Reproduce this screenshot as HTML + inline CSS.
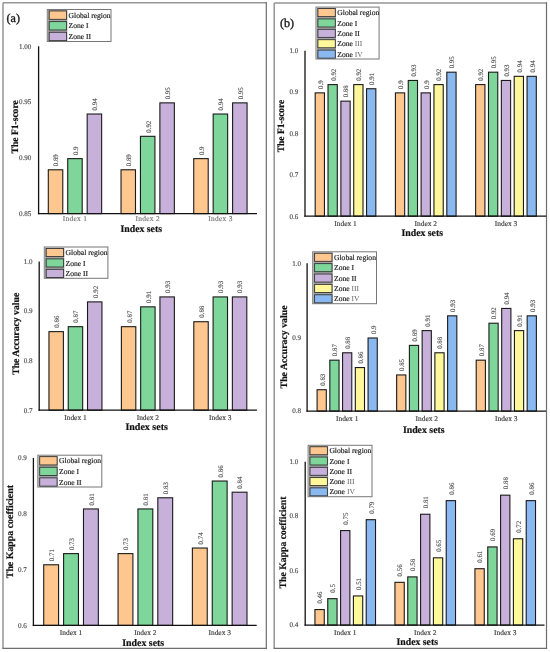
<!DOCTYPE html>
<html><head><meta charset="utf-8"><style>
html,body{margin:0;padding:0;background:#fff;}
body{width:550px;height:652px;overflow:hidden;}
svg{display:block;will-change:transform;}
text{font-family:"Liberation Serif",serif;text-rendering:geometricPrecision;}
.t{font-size:7.1px;fill:#4a4a4a;stroke:#555;stroke-width:0.15px;}
.v{font-size:6.9px;fill:#4a4a4a;stroke:#555;stroke-width:0.12px;}
.c{font-size:7.4px;fill:#3a3a3a;stroke:#444;stroke-width:0.16px;}
.l{font-size:7.6px;fill:#222;stroke:#222;stroke-width:0.18px;}
.rn{fill:#666;stroke:none;}
.c2{fill:#666;stroke:#777;stroke-width:0.1px;}
.xt{font-size:10px;font-weight:bold;fill:#111;stroke:#111;stroke-width:0.2px;}
.yt{font-size:9.8px;font-weight:bold;fill:#111;stroke:#111;stroke-width:0.2px;}
.pl{font-size:12.1px;fill:#1a1a1a;stroke:#1a1a1a;stroke-width:0.35px;}
</style></head><body>
<svg width="550" height="652" viewBox="0 0 550 652">
<rect width="550" height="652" fill="#fff"/>
<line x1="3" y1="2.8" x2="266.3" y2="2.8" stroke="#959595" stroke-width="1.5"/>
<line x1="3" y1="2.8" x2="3" y2="648.3" stroke="#959595" stroke-width="1.5"/>
<line x1="266.3" y1="2.1" x2="266.3" y2="648.9" stroke="#6e6e6e" stroke-width="1.2"/>
<line x1="2.3" y1="648.3" x2="266.9" y2="648.3" stroke="#6e6e6e" stroke-width="1.2"/>
<line x1="274.2" y1="2.9" x2="546.5" y2="2.9" stroke="#959595" stroke-width="1.5"/>
<line x1="274.2" y1="2.9" x2="274.2" y2="648.3" stroke="#959595" stroke-width="1.5"/>
<line x1="546.5" y1="2.2" x2="546.5" y2="648.9" stroke="#6e6e6e" stroke-width="1.2"/>
<line x1="273.5" y1="648.3" x2="547.1" y2="648.3" stroke="#6e6e6e" stroke-width="1.2"/>
<text class="pl" x="6.6" y="22.4">(a)</text>
<text class="pl" x="279.9" y="26.7">(b)</text>
<rect x="48.3" y="169.79" width="14.47" height="43.81" fill="#FFC790" stroke="#1a1a1a" stroke-width="1.1"/>
<text class="v" transform="translate(58.44 166.24) rotate(-90)" x="0" y="0">0.89</text>
<rect x="67.73" y="158.63" width="14.47" height="54.97" fill="#7ED69A" stroke="#1a1a1a" stroke-width="1.1"/>
<text class="v" transform="translate(77.87 155.08) rotate(-90)" x="0" y="0">0.9</text>
<rect x="87.17" y="114.02" width="14.47" height="99.58" fill="#C7B1DB" stroke="#1a1a1a" stroke-width="1.1"/>
<text class="v" transform="translate(97.3 110.47) rotate(-90)" x="0" y="0">0.94</text>
<text class="c c2" x="74.97" y="221.4" text-anchor="middle" style="letter-spacing:0.3px">Index 1</text>
<rect x="121.02" y="169.79" width="14.47" height="43.81" fill="#FFC790" stroke="#1a1a1a" stroke-width="1.1"/>
<text class="v" transform="translate(131.16 166.24) rotate(-90)" x="0" y="0">0.89</text>
<rect x="140.45" y="136.33" width="14.47" height="77.27" fill="#7ED69A" stroke="#1a1a1a" stroke-width="1.1"/>
<text class="v" transform="translate(150.59 132.78) rotate(-90)" x="0" y="0">0.92</text>
<rect x="159.88" y="102.87" width="14.47" height="110.73" fill="#C7B1DB" stroke="#1a1a1a" stroke-width="1.1"/>
<text class="v" transform="translate(170.02 99.32) rotate(-90)" x="0" y="0">0.95</text>
<text class="c c2" x="147.69" y="221.4" text-anchor="middle" style="letter-spacing:0.3px">Index 2</text>
<rect x="193.74" y="158.63" width="14.47" height="54.97" fill="#FFC790" stroke="#1a1a1a" stroke-width="1.1"/>
<text class="v" transform="translate(203.88 155.08) rotate(-90)" x="0" y="0">0.9</text>
<rect x="213.17" y="114.02" width="14.47" height="99.58" fill="#7ED69A" stroke="#1a1a1a" stroke-width="1.1"/>
<text class="v" transform="translate(223.31 110.47) rotate(-90)" x="0" y="0">0.94</text>
<rect x="232.6" y="102.87" width="14.47" height="110.73" fill="#C7B1DB" stroke="#1a1a1a" stroke-width="1.1"/>
<text class="v" transform="translate(242.74 99.32) rotate(-90)" x="0" y="0">0.95</text>
<text class="c c2" x="220.41" y="221.4" text-anchor="middle" style="letter-spacing:0.3px">Index 3</text>
<line x1="38.6" y1="46.3" x2="38.6" y2="214.25" stroke="#111" stroke-width="1.3"/>
<line x1="37.95" y1="213.6" x2="257" y2="213.6" stroke="#111" stroke-width="1.3"/>
<text class="t" x="31.3" y="215.9" text-anchor="end">0.85</text>
<text class="t" x="31.3" y="160.13" text-anchor="end">0.90</text>
<text class="t" x="31.3" y="104.37" text-anchor="end">0.95</text>
<text class="t" x="31.3" y="48.6" text-anchor="end">1.00</text>
<text class="xt" x="120.5" y="232" textLength="41.5" lengthAdjust="spacingAndGlyphs">Index sets</text>
<text class="yt" transform="translate(17.5 153.4) rotate(-90)" x="0" y="0" textLength="53.1" lengthAdjust="spacingAndGlyphs">The F1-score</text>
<rect x="47.3" y="9.5" width="63.7" height="32" fill="#fff" stroke="#777" stroke-width="1"/>
<rect x="47.8" y="10" width="19.5" height="31" fill="#a4a4a4"/>
<rect x="49.2" y="10.95" width="17.4" height="8.37" fill="#FFC790" stroke="#333" stroke-width="0.9"/>
<text class="l" x="68.6" y="17.73">Global region</text>
<rect x="49.2" y="21.62" width="17.4" height="8.37" fill="#7ED69A" stroke="#333" stroke-width="0.9"/>
<text class="l" x="68.6" y="28.4">Zone I</text>
<rect x="49.2" y="32.28" width="17.4" height="8.37" fill="#C7B1DB" stroke="#333" stroke-width="0.9"/>
<text class="l" x="68.6" y="39.07">Zone II</text>
<rect x="48.96" y="331.64" width="14.43" height="78.56" fill="#FFC790" stroke="#1a1a1a" stroke-width="1.1"/>
<text class="v" transform="translate(59.08 327.69) rotate(-90)" x="0" y="0">0.86</text>
<rect x="68.24" y="326.68" width="14.43" height="83.52" fill="#7ED69A" stroke="#1a1a1a" stroke-width="1.1"/>
<text class="v" transform="translate(78.36 322.73) rotate(-90)" x="0" y="0">0.87</text>
<rect x="87.52" y="301.88" width="14.43" height="108.32" fill="#C7B1DB" stroke="#1a1a1a" stroke-width="1.1"/>
<text class="v" transform="translate(97.64 297.93) rotate(-90)" x="0" y="0">0.92</text>
<text class="c" x="75.46" y="419.6" text-anchor="middle" style="letter-spacing:0px">Index 1</text>
<rect x="121.38" y="326.68" width="14.43" height="83.52" fill="#FFC790" stroke="#1a1a1a" stroke-width="1.1"/>
<text class="v" transform="translate(131.5 322.73) rotate(-90)" x="0" y="0">0.87</text>
<rect x="140.66" y="306.84" width="14.43" height="103.36" fill="#7ED69A" stroke="#1a1a1a" stroke-width="1.1"/>
<text class="v" transform="translate(150.78 302.89) rotate(-90)" x="0" y="0">0.91</text>
<rect x="159.94" y="296.92" width="14.43" height="113.28" fill="#C7B1DB" stroke="#1a1a1a" stroke-width="1.1"/>
<text class="v" transform="translate(170.06 292.97) rotate(-90)" x="0" y="0">0.93</text>
<text class="c" x="147.88" y="419.6" text-anchor="middle" style="letter-spacing:0px">Index 2</text>
<rect x="193.81" y="321.72" width="14.43" height="88.48" fill="#FFC790" stroke="#1a1a1a" stroke-width="1.1"/>
<text class="v" transform="translate(203.92 317.77) rotate(-90)" x="0" y="0">0.88</text>
<rect x="213.09" y="296.92" width="14.43" height="113.28" fill="#7ED69A" stroke="#1a1a1a" stroke-width="1.1"/>
<text class="v" transform="translate(223.2 292.97) rotate(-90)" x="0" y="0">0.93</text>
<rect x="232.37" y="296.92" width="14.43" height="113.28" fill="#C7B1DB" stroke="#1a1a1a" stroke-width="1.1"/>
<text class="v" transform="translate(242.48 292.97) rotate(-90)" x="0" y="0">0.93</text>
<text class="c" x="220.3" y="419.6" text-anchor="middle" style="letter-spacing:0px">Index 3</text>
<line x1="39.2" y1="261.4" x2="39.2" y2="410.85" stroke="#111" stroke-width="1.3"/>
<line x1="38.55" y1="410.2" x2="256.9" y2="410.2" stroke="#111" stroke-width="1.3"/>
<text class="t" x="32.5" y="412.5" text-anchor="end">0.7</text>
<text class="t" x="32.5" y="362.9" text-anchor="end">0.8</text>
<text class="t" x="32.5" y="313.3" text-anchor="end">0.9</text>
<text class="t" x="32.5" y="263.7" text-anchor="end">1.0</text>
<text class="xt" x="125.4" y="430.2" textLength="42.5" lengthAdjust="spacingAndGlyphs">Index sets</text>
<text class="yt" transform="translate(19.2 374.8) rotate(-90)" x="0" y="0" textLength="82" lengthAdjust="spacingAndGlyphs">The Accuracy value</text>
<rect x="44.3" y="247" width="63.6" height="31.3" fill="#fff" stroke="#777" stroke-width="1"/>
<rect x="44.8" y="247.5" width="19.5" height="30.3" fill="#a4a4a4"/>
<rect x="46.2" y="248.45" width="17.4" height="8.13" fill="#FFC790" stroke="#333" stroke-width="0.9"/>
<text class="l" x="65.6" y="255.12">Global region</text>
<rect x="46.2" y="258.88" width="17.4" height="8.13" fill="#7ED69A" stroke="#333" stroke-width="0.9"/>
<text class="l" x="65.6" y="265.55">Zone I</text>
<rect x="46.2" y="269.32" width="17.4" height="8.13" fill="#C7B1DB" stroke="#333" stroke-width="0.9"/>
<text class="l" x="65.6" y="275.98">Zone II</text>
<rect x="43.72" y="564.78" width="14.86" height="60.62" fill="#FFC790" stroke="#1a1a1a" stroke-width="1.1"/>
<text class="v" transform="translate(54.05 561.23) rotate(-90)" x="0" y="0">0.71</text>
<rect x="63.6" y="553.62" width="14.86" height="71.78" fill="#7ED69A" stroke="#1a1a1a" stroke-width="1.1"/>
<text class="v" transform="translate(73.93 550.07) rotate(-90)" x="0" y="0">0.73</text>
<rect x="83.48" y="508.95" width="14.86" height="116.45" fill="#C7B1DB" stroke="#1a1a1a" stroke-width="1.1"/>
<text class="v" transform="translate(93.81 505.4) rotate(-90)" x="0" y="0">0.81</text>
<text class="c" x="71.03" y="634.6" text-anchor="middle" style="letter-spacing:0px">Index 1</text>
<rect x="118.05" y="553.62" width="14.86" height="71.78" fill="#FFC790" stroke="#1a1a1a" stroke-width="1.1"/>
<text class="v" transform="translate(128.38 550.07) rotate(-90)" x="0" y="0">0.73</text>
<rect x="137.93" y="508.95" width="14.86" height="116.45" fill="#7ED69A" stroke="#1a1a1a" stroke-width="1.1"/>
<text class="v" transform="translate(148.26 505.4) rotate(-90)" x="0" y="0">0.81</text>
<rect x="157.81" y="497.78" width="14.86" height="127.62" fill="#C7B1DB" stroke="#1a1a1a" stroke-width="1.1"/>
<text class="v" transform="translate(168.14 494.23) rotate(-90)" x="0" y="0">0.83</text>
<text class="c" x="145.36" y="634.6" text-anchor="middle" style="letter-spacing:0px">Index 2</text>
<rect x="192.38" y="548.03" width="14.86" height="77.37" fill="#FFC790" stroke="#1a1a1a" stroke-width="1.1"/>
<text class="v" transform="translate(202.71 544.48) rotate(-90)" x="0" y="0">0.74</text>
<rect x="212.26" y="481.03" width="14.86" height="144.37" fill="#7ED69A" stroke="#1a1a1a" stroke-width="1.1"/>
<text class="v" transform="translate(222.59 477.48) rotate(-90)" x="0" y="0">0.86</text>
<rect x="232.14" y="492.2" width="14.86" height="133.2" fill="#C7B1DB" stroke="#1a1a1a" stroke-width="1.1"/>
<text class="v" transform="translate(242.47 488.65) rotate(-90)" x="0" y="0">0.84</text>
<text class="c" x="219.69" y="634.6" text-anchor="middle" style="letter-spacing:0px">Index 3</text>
<line x1="33.4" y1="457.9" x2="33.4" y2="626.05" stroke="#111" stroke-width="1.3"/>
<line x1="32.75" y1="625.4" x2="256.7" y2="625.4" stroke="#111" stroke-width="1.3"/>
<text class="t" x="26.8" y="627.7" text-anchor="end">0.6</text>
<text class="t" x="26.8" y="571.87" text-anchor="end">0.7</text>
<text class="t" x="26.8" y="516.03" text-anchor="end">0.8</text>
<text class="t" x="26.8" y="460.2" text-anchor="end">0.9</text>
<text class="xt" x="122.2" y="646.3" textLength="42" lengthAdjust="spacingAndGlyphs">Index sets</text>
<text class="yt" transform="translate(13.3 578.2) rotate(-90)" x="0" y="0" textLength="93.2" lengthAdjust="spacingAndGlyphs">The Kappa coefficient</text>
<rect x="37.8" y="455.2" width="64" height="31.8" fill="#fff" stroke="#777" stroke-width="1"/>
<rect x="38.3" y="455.7" width="19.5" height="30.8" fill="#a4a4a4"/>
<rect x="39.7" y="456.65" width="17.4" height="8.3" fill="#FFC790" stroke="#333" stroke-width="0.9"/>
<text class="l" x="59.1" y="463.4">Global region</text>
<rect x="39.7" y="467.25" width="17.4" height="8.3" fill="#7ED69A" stroke="#333" stroke-width="0.9"/>
<text class="l" x="59.1" y="474">Zone I</text>
<rect x="39.7" y="477.85" width="17.4" height="8.3" fill="#C7B1DB" stroke="#333" stroke-width="0.9"/>
<text class="l" x="59.1" y="484.6">Zone II</text>
<rect x="315.18" y="92.87" width="9.27" height="123.33" fill="#FFC790" stroke="#1a1a1a" stroke-width="1.1"/>
<text class="v" transform="translate(322.71 89.02) rotate(-90)" x="0" y="0">0.9</text>
<rect x="328.02" y="84.6" width="9.27" height="131.6" fill="#7ED69A" stroke="#1a1a1a" stroke-width="1.1"/>
<text class="v" transform="translate(335.56 80.75) rotate(-90)" x="0" y="0">0.92</text>
<rect x="340.88" y="101.15" width="9.27" height="115.05" fill="#C7B1DB" stroke="#1a1a1a" stroke-width="1.1"/>
<text class="v" transform="translate(348.41 97.3) rotate(-90)" x="0" y="0">0.88</text>
<rect x="353.73" y="84.6" width="9.27" height="131.6" fill="#FFF799" stroke="#1a1a1a" stroke-width="1.1"/>
<text class="v" transform="translate(361.26 80.75) rotate(-90)" x="0" y="0">0.92</text>
<rect x="366.57" y="88.74" width="9.27" height="127.46" fill="#8AB9F1" stroke="#1a1a1a" stroke-width="1.1"/>
<text class="v" transform="translate(374.11 84.89) rotate(-90)" x="0" y="0">0.91</text>
<text class="c" x="345.51" y="225.9" text-anchor="middle" style="letter-spacing:0px">Index 1</text>
<rect x="395.41" y="92.87" width="9.27" height="123.33" fill="#FFC790" stroke="#1a1a1a" stroke-width="1.1"/>
<text class="v" transform="translate(402.94 89.02) rotate(-90)" x="0" y="0">0.9</text>
<rect x="408.25" y="80.46" width="9.27" height="135.74" fill="#7ED69A" stroke="#1a1a1a" stroke-width="1.1"/>
<text class="v" transform="translate(415.79 76.61) rotate(-90)" x="0" y="0">0.93</text>
<rect x="421.11" y="92.87" width="9.27" height="123.33" fill="#C7B1DB" stroke="#1a1a1a" stroke-width="1.1"/>
<text class="v" transform="translate(428.64 89.02) rotate(-90)" x="0" y="0">0.9</text>
<rect x="433.96" y="84.6" width="9.27" height="131.6" fill="#FFF799" stroke="#1a1a1a" stroke-width="1.1"/>
<text class="v" transform="translate(441.49 80.75) rotate(-90)" x="0" y="0">0.92</text>
<rect x="446.81" y="72.19" width="9.27" height="144.01" fill="#8AB9F1" stroke="#1a1a1a" stroke-width="1.1"/>
<text class="v" transform="translate(454.34 68.34) rotate(-90)" x="0" y="0">0.95</text>
<text class="c" x="425.74" y="225.9" text-anchor="middle" style="letter-spacing:0px">Index 2</text>
<rect x="475.64" y="84.6" width="9.27" height="131.6" fill="#FFC790" stroke="#1a1a1a" stroke-width="1.1"/>
<text class="v" transform="translate(483.17 80.75) rotate(-90)" x="0" y="0">0.92</text>
<rect x="488.49" y="72.19" width="9.27" height="144.01" fill="#7ED69A" stroke="#1a1a1a" stroke-width="1.1"/>
<text class="v" transform="translate(496.02 68.34) rotate(-90)" x="0" y="0">0.95</text>
<rect x="501.34" y="80.46" width="9.27" height="135.74" fill="#C7B1DB" stroke="#1a1a1a" stroke-width="1.1"/>
<text class="v" transform="translate(508.87 76.61) rotate(-90)" x="0" y="0">0.93</text>
<rect x="514.19" y="76.33" width="9.27" height="139.88" fill="#FFF799" stroke="#1a1a1a" stroke-width="1.1"/>
<text class="v" transform="translate(521.72 72.48) rotate(-90)" x="0" y="0">0.94</text>
<rect x="527.04" y="76.33" width="9.27" height="139.88" fill="#8AB9F1" stroke="#1a1a1a" stroke-width="1.1"/>
<text class="v" transform="translate(534.57 72.48) rotate(-90)" x="0" y="0">0.94</text>
<text class="c" x="505.97" y="225.9" text-anchor="middle" style="letter-spacing:0px">Index 3</text>
<line x1="305" y1="50.7" x2="305" y2="216.85" stroke="#111" stroke-width="1.3"/>
<line x1="304.35" y1="216.2" x2="546.4" y2="216.2" stroke="#111" stroke-width="1.3"/>
<text class="t" x="298.3" y="218.5" text-anchor="end">0.6</text>
<text class="t" x="298.3" y="177.12" text-anchor="end">0.7</text>
<text class="t" x="298.3" y="135.75" text-anchor="end">0.8</text>
<text class="t" x="298.3" y="94.37" text-anchor="end">0.9</text>
<text class="t" x="298.3" y="53" text-anchor="end">1.0</text>
<text class="xt" x="401.5" y="235.5" textLength="41.5" lengthAdjust="spacingAndGlyphs">Index sets</text>
<text class="yt" transform="translate(284.3 152.2) rotate(-90)" x="0" y="0" textLength="52.5" lengthAdjust="spacingAndGlyphs">The F1-score</text>
<rect x="316" y="7.1" width="63.1" height="51.9" fill="#fff" stroke="#777" stroke-width="1"/>
<rect x="316.5" y="7.6" width="19.5" height="50.9" fill="#a4a4a4"/>
<rect x="317.9" y="8.55" width="17.4" height="8.08" fill="#FFC790" stroke="#333" stroke-width="0.9"/>
<text class="l" x="337.3" y="15.19">Global region</text>
<rect x="317.9" y="18.93" width="17.4" height="8.08" fill="#7ED69A" stroke="#333" stroke-width="0.9"/>
<text class="l" x="337.3" y="25.57">Zone I</text>
<rect x="317.9" y="29.31" width="17.4" height="8.08" fill="#C7B1DB" stroke="#333" stroke-width="0.9"/>
<text class="l" x="337.3" y="35.95">Zone II</text>
<rect x="317.9" y="39.69" width="17.4" height="8.08" fill="#FFF799" stroke="#333" stroke-width="0.9"/>
<text class="l" x="337.3" y="46.33">Zone <tspan class="rn">III</tspan></text>
<rect x="317.9" y="50.07" width="17.4" height="8.08" fill="#8AB9F1" stroke="#333" stroke-width="0.9"/>
<text class="l" x="337.3" y="56.71">Zone <tspan class="rn">IV</tspan></text>
<rect x="317.09" y="389.73" width="9.21" height="21.37" fill="#FFC790" stroke="#1a1a1a" stroke-width="1.1"/>
<text class="v" transform="translate(324.6 385.78) rotate(-90)" x="0" y="0">0.83</text>
<rect x="329.83" y="360.17" width="9.21" height="50.93" fill="#7ED69A" stroke="#1a1a1a" stroke-width="1.1"/>
<text class="v" transform="translate(337.34 356.22) rotate(-90)" x="0" y="0">0.87</text>
<rect x="342.57" y="352.78" width="9.21" height="58.32" fill="#C7B1DB" stroke="#1a1a1a" stroke-width="1.1"/>
<text class="v" transform="translate(350.08 348.83) rotate(-90)" x="0" y="0">0.88</text>
<rect x="355.31" y="367.56" width="9.21" height="43.54" fill="#FFF799" stroke="#1a1a1a" stroke-width="1.1"/>
<text class="v" transform="translate(362.82 363.61) rotate(-90)" x="0" y="0">0.86</text>
<rect x="368.06" y="338" width="9.21" height="73.1" fill="#8AB9F1" stroke="#1a1a1a" stroke-width="1.1"/>
<text class="v" transform="translate(375.56 334.05) rotate(-90)" x="0" y="0">0.9</text>
<text class="c" x="347.18" y="420.9" text-anchor="middle" style="letter-spacing:0px">Index 1</text>
<rect x="396.65" y="374.95" width="9.21" height="36.15" fill="#FFC790" stroke="#1a1a1a" stroke-width="1.1"/>
<text class="v" transform="translate(404.16 371) rotate(-90)" x="0" y="0">0.85</text>
<rect x="409.39" y="345.39" width="9.21" height="65.71" fill="#7ED69A" stroke="#1a1a1a" stroke-width="1.1"/>
<text class="v" transform="translate(416.9 341.44) rotate(-90)" x="0" y="0">0.89</text>
<rect x="422.13" y="330.61" width="9.21" height="80.49" fill="#C7B1DB" stroke="#1a1a1a" stroke-width="1.1"/>
<text class="v" transform="translate(429.64 326.66) rotate(-90)" x="0" y="0">0.91</text>
<rect x="434.88" y="352.78" width="9.21" height="58.32" fill="#FFF799" stroke="#1a1a1a" stroke-width="1.1"/>
<text class="v" transform="translate(442.38 348.83) rotate(-90)" x="0" y="0">0.88</text>
<rect x="447.62" y="315.83" width="9.21" height="95.27" fill="#8AB9F1" stroke="#1a1a1a" stroke-width="1.1"/>
<text class="v" transform="translate(455.12 311.88) rotate(-90)" x="0" y="0">0.93</text>
<text class="c" x="426.74" y="420.9" text-anchor="middle" style="letter-spacing:0px">Index 2</text>
<rect x="476.21" y="360.17" width="9.21" height="50.93" fill="#FFC790" stroke="#1a1a1a" stroke-width="1.1"/>
<text class="v" transform="translate(483.72 356.22) rotate(-90)" x="0" y="0">0.87</text>
<rect x="488.95" y="323.22" width="9.21" height="87.88" fill="#7ED69A" stroke="#1a1a1a" stroke-width="1.1"/>
<text class="v" transform="translate(496.46 319.27) rotate(-90)" x="0" y="0">0.92</text>
<rect x="501.69" y="308.44" width="9.21" height="102.66" fill="#C7B1DB" stroke="#1a1a1a" stroke-width="1.1"/>
<text class="v" transform="translate(509.2 304.49) rotate(-90)" x="0" y="0">0.94</text>
<rect x="514.43" y="330.61" width="9.21" height="80.49" fill="#FFF799" stroke="#1a1a1a" stroke-width="1.1"/>
<text class="v" transform="translate(521.94 326.66) rotate(-90)" x="0" y="0">0.91</text>
<rect x="527.17" y="315.83" width="9.21" height="95.27" fill="#8AB9F1" stroke="#1a1a1a" stroke-width="1.1"/>
<text class="v" transform="translate(534.68 311.88) rotate(-90)" x="0" y="0">0.93</text>
<text class="c" x="506.3" y="420.9" text-anchor="middle" style="letter-spacing:0px">Index 3</text>
<line x1="307.1" y1="263.3" x2="307.1" y2="411.75" stroke="#111" stroke-width="1.3"/>
<line x1="306.45" y1="411.1" x2="546" y2="411.1" stroke="#111" stroke-width="1.3"/>
<text class="t" x="301" y="413.4" text-anchor="end">0.8</text>
<text class="t" x="301" y="339.5" text-anchor="end">0.9</text>
<text class="t" x="301" y="265.6" text-anchor="end">1.0</text>
<text class="xt" x="402.9" y="432.9" textLength="41.7" lengthAdjust="spacingAndGlyphs">Index sets</text>
<text class="yt" transform="translate(287.3 388.4) rotate(-90)" x="0" y="0" textLength="83" lengthAdjust="spacingAndGlyphs">The Accuracy value</text>
<rect x="312.7" y="251.8" width="63.8" height="51.9" fill="#fff" stroke="#777" stroke-width="1"/>
<rect x="313.2" y="252.3" width="19.5" height="50.9" fill="#a4a4a4"/>
<rect x="314.6" y="253.25" width="17.4" height="8.08" fill="#FFC790" stroke="#333" stroke-width="0.9"/>
<text class="l" x="334" y="259.89">Global region</text>
<rect x="314.6" y="263.63" width="17.4" height="8.08" fill="#7ED69A" stroke="#333" stroke-width="0.9"/>
<text class="l" x="334" y="270.27">Zone I</text>
<rect x="314.6" y="274.01" width="17.4" height="8.08" fill="#C7B1DB" stroke="#333" stroke-width="0.9"/>
<text class="l" x="334" y="280.65">Zone II</text>
<rect x="314.6" y="284.39" width="17.4" height="8.08" fill="#FFF799" stroke="#333" stroke-width="0.9"/>
<text class="l" x="334" y="291.03">Zone <tspan class="rn">III</tspan></text>
<rect x="314.6" y="294.77" width="17.4" height="8.08" fill="#8AB9F1" stroke="#333" stroke-width="0.9"/>
<text class="l" x="334" y="301.41">Zone <tspan class="rn">IV</tspan></text>
<rect x="314.94" y="609.56" width="9.31" height="15.54" fill="#FFC790" stroke="#1a1a1a" stroke-width="1.1"/>
<text class="v" transform="translate(322.49 603.61) rotate(-90)" x="0" y="0">0.46</text>
<rect x="327.76" y="598.67" width="9.31" height="26.43" fill="#7ED69A" stroke="#1a1a1a" stroke-width="1.1"/>
<text class="v" transform="translate(335.31 592.72) rotate(-90)" x="0" y="0">0.5</text>
<rect x="340.58" y="530.58" width="9.31" height="94.52" fill="#C7B1DB" stroke="#1a1a1a" stroke-width="1.1"/>
<text class="v" transform="translate(348.13 524.63) rotate(-90)" x="0" y="0">0.75</text>
<rect x="353.4" y="595.94" width="9.31" height="29.16" fill="#FFF799" stroke="#1a1a1a" stroke-width="1.1"/>
<text class="v" transform="translate(360.95 589.99) rotate(-90)" x="0" y="0">0.51</text>
<rect x="366.22" y="519.69" width="9.31" height="105.41" fill="#8AB9F1" stroke="#1a1a1a" stroke-width="1.1"/>
<text class="v" transform="translate(373.77 513.74) rotate(-90)" x="0" y="0">0.79</text>
<text class="c" x="345.23" y="634.6" text-anchor="middle" style="letter-spacing:0px">Index 1</text>
<rect x="394.94" y="582.33" width="9.31" height="42.77" fill="#FFC790" stroke="#1a1a1a" stroke-width="1.1"/>
<text class="v" transform="translate(402.49 576.38) rotate(-90)" x="0" y="0">0.56</text>
<rect x="407.76" y="576.88" width="9.31" height="48.22" fill="#7ED69A" stroke="#1a1a1a" stroke-width="1.1"/>
<text class="v" transform="translate(415.31 570.93) rotate(-90)" x="0" y="0">0.58</text>
<rect x="420.58" y="514.24" width="9.31" height="110.86" fill="#C7B1DB" stroke="#1a1a1a" stroke-width="1.1"/>
<text class="v" transform="translate(428.13 508.29) rotate(-90)" x="0" y="0">0.81</text>
<rect x="433.4" y="557.82" width="9.31" height="67.28" fill="#FFF799" stroke="#1a1a1a" stroke-width="1.1"/>
<text class="v" transform="translate(440.95 551.87) rotate(-90)" x="0" y="0">0.65</text>
<rect x="446.22" y="500.63" width="9.31" height="124.47" fill="#8AB9F1" stroke="#1a1a1a" stroke-width="1.1"/>
<text class="v" transform="translate(453.77 494.68) rotate(-90)" x="0" y="0">0.86</text>
<text class="c" x="425.23" y="634.6" text-anchor="middle" style="letter-spacing:0px">Index 2</text>
<rect x="474.94" y="568.71" width="9.31" height="56.39" fill="#FFC790" stroke="#1a1a1a" stroke-width="1.1"/>
<text class="v" transform="translate(482.49 562.76) rotate(-90)" x="0" y="0">0.61</text>
<rect x="487.76" y="546.92" width="9.31" height="78.18" fill="#7ED69A" stroke="#1a1a1a" stroke-width="1.1"/>
<text class="v" transform="translate(495.31 540.97) rotate(-90)" x="0" y="0">0.69</text>
<rect x="500.58" y="495.18" width="9.31" height="129.92" fill="#C7B1DB" stroke="#1a1a1a" stroke-width="1.1"/>
<text class="v" transform="translate(508.13 489.23) rotate(-90)" x="0" y="0">0.88</text>
<rect x="513.4" y="538.75" width="9.31" height="86.35" fill="#FFF799" stroke="#1a1a1a" stroke-width="1.1"/>
<text class="v" transform="translate(520.95 532.8) rotate(-90)" x="0" y="0">0.72</text>
<rect x="526.22" y="500.63" width="9.31" height="124.47" fill="#8AB9F1" stroke="#1a1a1a" stroke-width="1.1"/>
<text class="v" transform="translate(533.77 494.68) rotate(-90)" x="0" y="0">0.86</text>
<text class="c" x="505.23" y="634.6" text-anchor="middle" style="letter-spacing:0px">Index 3</text>
<line x1="305.2" y1="461.7" x2="305.2" y2="625.75" stroke="#111" stroke-width="1.3"/>
<line x1="304.55" y1="625.1" x2="544.5" y2="625.1" stroke="#111" stroke-width="1.3"/>
<text class="t" x="298.3" y="627.4" text-anchor="end">0.4</text>
<text class="t" x="298.3" y="572.93" text-anchor="end">0.6</text>
<text class="t" x="298.3" y="518.47" text-anchor="end">0.8</text>
<text class="t" x="298.3" y="464" text-anchor="end">1.0</text>
<text class="xt" x="396.5" y="644.6" textLength="41.5" lengthAdjust="spacingAndGlyphs">Index sets</text>
<text class="yt" transform="translate(286.1 588.4) rotate(-90)" x="0" y="0" textLength="91.8" lengthAdjust="spacingAndGlyphs">The Kappa coefficient</text>
<rect x="308.1" y="445.3" width="63.9" height="51.4" fill="#fff" stroke="#777" stroke-width="1"/>
<rect x="308.6" y="445.8" width="19.5" height="50.4" fill="#a4a4a4"/>
<rect x="310" y="446.75" width="17.4" height="7.98" fill="#FFC790" stroke="#333" stroke-width="0.9"/>
<text class="l" x="329.4" y="453.34">Global region</text>
<rect x="310" y="457.03" width="17.4" height="7.98" fill="#7ED69A" stroke="#333" stroke-width="0.9"/>
<text class="l" x="329.4" y="463.62">Zone I</text>
<rect x="310" y="467.31" width="17.4" height="7.98" fill="#C7B1DB" stroke="#333" stroke-width="0.9"/>
<text class="l" x="329.4" y="473.9">Zone II</text>
<rect x="310" y="477.59" width="17.4" height="7.98" fill="#FFF799" stroke="#333" stroke-width="0.9"/>
<text class="l" x="329.4" y="484.18">Zone <tspan class="rn">III</tspan></text>
<rect x="310" y="487.87" width="17.4" height="7.98" fill="#8AB9F1" stroke="#333" stroke-width="0.9"/>
<text class="l" x="329.4" y="494.46">Zone <tspan class="rn">IV</tspan></text>
</svg>
</body></html>
